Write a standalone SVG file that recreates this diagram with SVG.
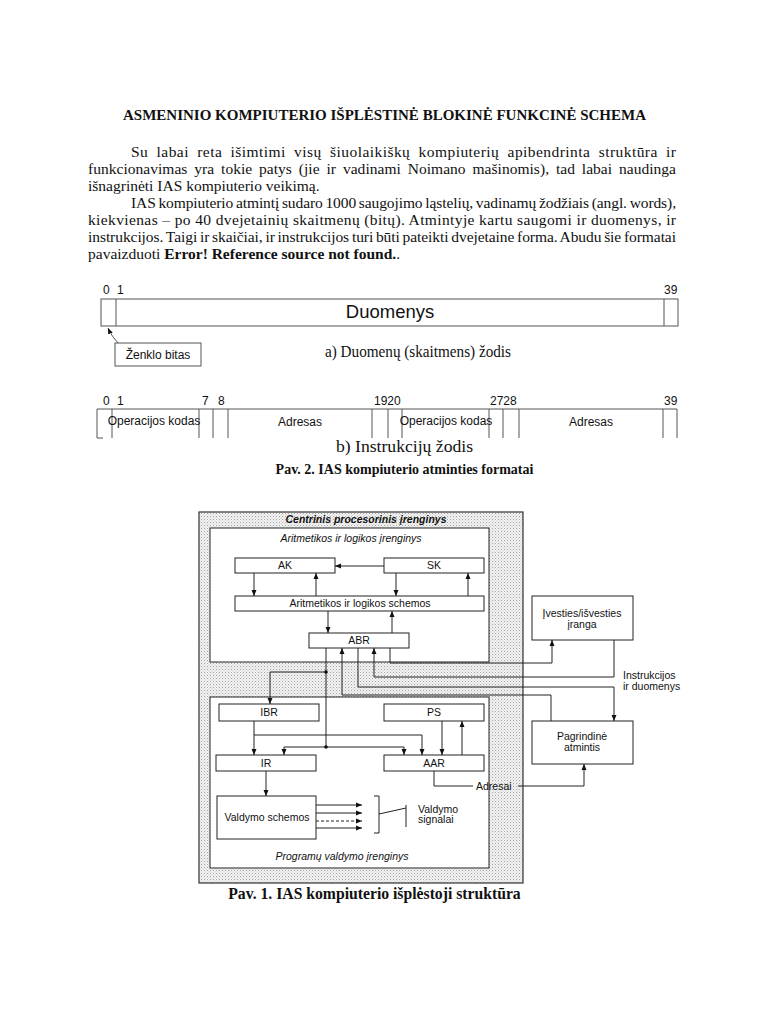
<svg xmlns="http://www.w3.org/2000/svg" width="768" height="1024" viewBox="0 0 768 1024">
<style>
.serif{font-family:"Liberation Serif","Times New Roman",serif;fill:#111}
.sans{font-family:"Liberation Sans",Arial,sans-serif;fill:#111}
.body{font-size:15.5px}
.fmt{font-size:12px}
.cpu{font-size:10.5px}
.box{fill:#fff;stroke:#222;stroke-width:1}
.fbox{fill:none;stroke:#555;stroke-width:1}
.ln{fill:none;stroke:#222;stroke-width:1}
.fl{fill:none;stroke:#555;stroke-width:1}
.c{text-anchor:middle}
</style>
<defs>
<marker id="ah" markerWidth="6" markerHeight="6" refX="6" refY="3" orient="auto" markerUnits="userSpaceOnUse">
<path d="M0,0.5 L6,3 L0,5.5 z" fill="#111"/>
</marker>
<pattern id="dots" width="3" height="3" patternUnits="userSpaceOnUse">
<rect width="3" height="3" fill="#f2f2f2"/>
<rect width="1" height="1" fill="#a4a4a4"/>
<rect x="1.5" y="1.5" width="1" height="1" fill="#c4c4c4"/>
</pattern>
</defs>
<rect width="768" height="1024" fill="#fff"/>

<g id="text">
<text class="serif" x="384.5" y="120" font-size="15" font-weight="bold" text-anchor="middle">ASMENINIO KOMPIUTERIO IŠPLĖSTINĖ BLOKINĖ FUNKCINĖ SCHEMA</text>
<text class="serif body" x="131" y="157" word-spacing="4" textLength="545" lengthAdjust="spacing">Su labai reta išimtimi visų šiuolaikiškų kompiuterių apibendrinta struktūra ir</text>
<text class="serif body" x="88" y="174" word-spacing="3" textLength="588" lengthAdjust="spacing">funkcionavimas yra tokie patys (jie ir vadinami Noimano mašinomis), tad labai naudinga</text>
<text class="serif body" x="88" y="191">išnagrinėti IAS kompiuterio veikimą.</text>
<text class="serif body" x="131" y="208" word-spacing="-1" textLength="545" lengthAdjust="spacing">IAS kompiuterio atmintį sudaro 1000 saugojimo ląstelių, vadinamų žodžiais (angl. words),</text>
<text class="serif body" x="88" y="225" textLength="588" lengthAdjust="spacing">kiekvienas – po 40 dvejetainių skaitmenų (bitų). Atmintyje kartu saugomi ir duomenys, ir</text>
<text class="serif body" x="88" y="242" word-spacing="-1" textLength="588" lengthAdjust="spacing">instrukcijos. Taigi ir skaičiai, ir instrukcijos turi būti pateikti dvejetaine forma. Abudu šie formatai</text>
<text class="serif body" x="88" y="259">pavaizduoti <tspan font-weight="bold">Error! Reference source not found.</tspan>.</text>
</g>

<g id="data-word">
<text class="sans fmt" x="103" y="294">0</text>
<text class="sans fmt" x="117" y="294">1</text>
<text class="sans fmt" x="664" y="294">39</text>
<rect class="fbox" x="101" y="299" width="577" height="27"/>
<line class="fl" x1="116" y1="299" x2="116" y2="326"/>
<line class="fl" x1="664" y1="299" x2="664" y2="326"/>
<text class="sans c" x="390" y="318" font-size="18.5">Duomenys</text>
<text class="serif" x="325" y="357" font-size="16" textLength="186" lengthAdjust="spacingAndGlyphs">a) Duomenų (skaitmens) žodis</text>
</g>

<g id="sign-bit">
<rect class="fbox" x="115" y="343" width="86" height="23"/>
<text class="sans fmt c" x="158" y="359">Ženklo bitas</text>
<path class="fl" d="M118,343 Q112,337 108,328" marker-end="url(#ah)"/>
</g>

<g id="instruction-word">
<text class="sans fmt" x="103" y="405">0</text>
<text class="sans fmt" x="117" y="405">1</text>
<text class="sans fmt" x="202" y="405">7</text>
<text class="sans fmt" x="218" y="405">8</text>
<text class="sans fmt" x="374" y="405">1920</text>
<text class="sans fmt" x="490" y="405">2728</text>
<text class="sans fmt" x="664" y="405">39</text>
<line class="fl" x1="97" y1="409" x2="677" y2="409"/>
<path class="fl" d="M97,409 V438 H103"/>
<path class="fl" d="M112,409 V438 M199,409 V438 M213,409 V438 M228,409 V438 M372,409 V438 M388,409 V438 M402,409 V438 M489,409 V438 M503,409 V438 M519,409 V438 M663,409 V438 M677,409 V438"/>
<text class="sans fmt c" x="154" y="425">Operacijos kodas</text>
<text class="sans fmt c" x="300" y="426">Adresas</text>
<text class="sans fmt c" x="446" y="425">Operacijos kodas</text>
<text class="sans fmt c" x="591" y="426">Adresas</text>
<text class="serif" x="336" y="452" font-size="16" textLength="137" lengthAdjust="spacingAndGlyphs">b) Instrukcijų žodis</text>
<text class="serif c" x="404.5" y="474" font-size="14" font-weight="bold">Pav. 2. IAS kompiuterio atminties formatai</text>
</g>

<g id="cpu">
<rect x="199" y="512" width="324" height="371" fill="url(#dots)" stroke="#333" stroke-width="1.2"/>
<text class="sans c" x="366" y="523" font-size="10.5" font-weight="bold" font-style="italic">Centrinis procesorinis įrenginys</text>
</g>

<g id="alu">
<rect class="box" x="210" y="528" width="279" height="134"/>
<text class="sans cpu c" x="351" y="542" font-style="italic">Aritmetikos ir logikos įrenginys</text>
</g>

<g id="AK">
<rect class="box" x="235" y="558" width="100" height="15"/>
<text class="sans cpu c" x="285" y="569">AK</text>
</g>
<g id="SK">
<rect class="box" x="384" y="558" width="100" height="15"/>
<text class="sans cpu c" x="434" y="569">SK</text>
</g>
<g id="ALS">
<rect class="box" x="235" y="596" width="249" height="15"/>
<text class="sans cpu c" x="360" y="607">Aritmetikos ir logikos schemos</text>
</g>
<g id="ABR">
<rect class="box" x="309" y="633" width="100" height="15"/>
<text class="sans cpu c" x="359" y="644">ABR</text>
</g>

<g id="pcu">
<rect class="box" x="210" y="697" width="279" height="171"/>
<text class="sans cpu c" x="342" y="860" font-style="italic">Programų valdymo įrenginys</text>
</g>
<g id="IBR">
<rect class="box" x="219" y="704" width="100" height="17"/>
<text class="sans cpu c" x="269" y="716">IBR</text>
</g>
<g id="PS">
<rect class="box" x="384" y="704" width="100" height="17"/>
<text class="sans cpu c" x="434" y="716">PS</text>
</g>
<g id="IR">
<rect class="box" x="216" y="755" width="100" height="16"/>
<text class="sans cpu c" x="266" y="767">IR</text>
</g>
<g id="AAR">
<rect class="box" x="384" y="755" width="100" height="16"/>
<text class="sans cpu c" x="434" y="767">AAR</text>
</g>
<g id="valdymo-schemos">
<rect class="box" x="217" y="796" width="99" height="43"/>
<text class="sans cpu c" x="267" y="821">Valdymo schemos</text>
</g>

<g id="io">
<rect class="box" x="532" y="596" width="101" height="44"/>
<text class="sans cpu c" x="582" y="617">Įvesties/išvesties</text>
<text class="sans cpu c" x="582" y="628">įranga</text>
</g>
<g id="memory">
<rect class="box" x="532" y="721" width="101" height="43"/>
<text class="sans cpu c" x="582" y="740">Pagrindinė</text>
<text class="sans cpu c" x="582" y="751">atmintis</text>
</g>

<g id="labels">
<text class="sans cpu" x="623" y="679">Instrukcijos</text>
<text class="sans cpu" x="623" y="690">ir duomenys</text>
<text class="sans cpu" x="476" y="790">Adresai</text>
<text class="sans cpu" x="418" y="813">Valdymo</text>
<text class="sans cpu" x="418" y="823">signalai</text>
</g>

<g id="connectors">
<path class="ln" d="M384,566 H335" marker-end="url(#ah)"/>
<path class="ln" d="M254,573 V596" marker-end="url(#ah)"/>
<path class="ln" d="M316,596 V573" marker-end="url(#ah)"/>
<path class="ln" d="M396,573 V596" marker-end="url(#ah)"/>
<path class="ln" d="M468,596 V573" marker-end="url(#ah)"/>
<path class="ln" d="M328,611 V633" marker-end="url(#ah)"/>
<path class="ln" d="M392,633 V611" marker-end="url(#ah)"/>
<path class="ln" d="M390,648 V663 H552 V640" marker-end="url(#ah)"/>
<path class="ln" d="M614,640 V677 H374 V648" marker-end="url(#ah)"/>
<path class="ln" d="M358,648 V687 H614 V721" marker-end="url(#ah)"/>
<path class="ln" d="M551,721 V695 H342 V648" marker-end="url(#ah)"/>
<path class="ln" d="M326,648 V747"/>
<path class="ln" d="M326,672 H270 V704" marker-end="url(#ah)"/>
<path class="ln" d="M326,747 H284 V755" marker-end="url(#ah)"/>
<path class="ln" d="M326,747 H404 V755" marker-end="url(#ah)"/>
<circle cx="326" cy="672" r="1.8" fill="#111"/>
<circle cx="326" cy="747" r="1.8" fill="#111"/>
<path class="ln" d="M254,721 V755" marker-end="url(#ah)"/>
<path class="ln" d="M254,735 H422 V755" marker-end="url(#ah)"/>
<path class="ln" d="M442,721 V755" marker-end="url(#ah)"/>
<path class="ln" d="M462,755 V721" marker-end="url(#ah)"/>
<path class="ln" d="M266,771 V796" marker-end="url(#ah)"/>
<path class="ln" d="M434,771 V786 H473"/>
<path class="ln" d="M518,786 H584 V764" marker-end="url(#ah)"/>
<path class="ln" d="M316,805 H362" marker-end="url(#ah)"/>
<path class="ln" d="M316,813 H362" marker-end="url(#ah)"/>
<path class="ln" d="M316,821 H362" stroke-dasharray="3,2" marker-end="url(#ah)"/>
<path class="ln" d="M316,828 H362" marker-end="url(#ah)"/>
<path class="ln" d="M374,796 H379 V833 H374"/>
<path class="ln" d="M379,814 L406,808"/>
<path class="ln" d="M406,805 V827"/>
</g>

<text class="serif c" x="374.5" y="899" font-size="15.7" font-weight="bold">Pav. 1. IAS kompiuterio išplėstoji struktūra</text>
</svg>
